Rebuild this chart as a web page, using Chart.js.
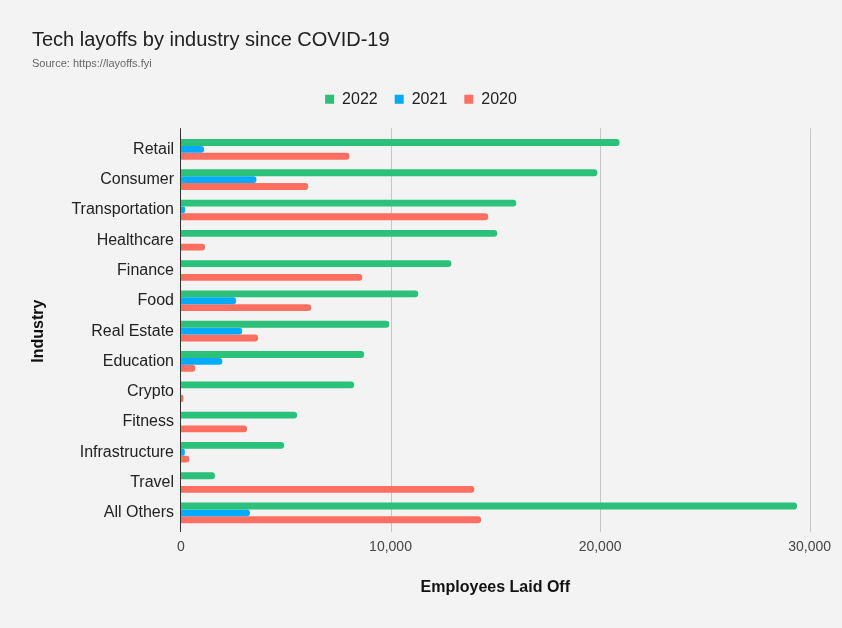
<!DOCTYPE html>
<html>
<head>
<meta charset="utf-8">
<script src="https://cdn.jsdelivr.net/npm/chart.js@4"></script>
<style>
  html, body { margin: 0; padding: 0; background: #f3f3f3; }
  #wrap { width: 842px; height: 628px; }
</style>
</head>
<body>
<div id="wrap"><canvas id="c" width="842" height="628"></canvas></div>
<script>
const categories = ['Retail', 'Consumer', 'Transportation', 'Healthcare', 'Finance', 'Food', 'Real Estate', 'Education', 'Crypto', 'Fitness', 'Infrastructure', 'Travel', 'All Others'];
const values2022 = [20930, 19870, 16000, 15090, 12900, 11320, 9940, 8740, 8260, 5540, 4920, 1620, 29400];
const values2021 = [1100, 3600, 200, 0, 0, 2630, 2920, 1970, 0, 0, 180, 0, 3290];
const values2020 = [8040, 6070, 14660, 1150, 8650, 6210, 3680, 680, 110, 3150, 400, 14000, 14320];
const xTicks = [0, 10000, 20000, 30000];

const FONT = "'Liberation Sans', Arial, sans-serif";

const gridPlugin = {
  id: 'extGrid',
  beforeDatasetsDraw(chart) {
    const { ctx, chartArea, scales: { x } } = chart;
    ctx.save();
    ctx.lineWidth = 1;
    x.ticks.forEach(t => {
      if (t.value === 0) return;
      const px = Math.round(x.getPixelForValue(t.value)) + 0.5;
      ctx.strokeStyle = '#c6c6c6';
      ctx.beginPath();
      ctx.moveTo(px, chartArea.top - 6);
      ctx.lineTo(px, chartArea.bottom + 4);
      ctx.stroke();
    });
    ctx.restore();
  },
  afterDatasetsDraw(chart) {
    const { ctx, chartArea, scales: { x } } = chart;
    const px = Math.round(x.getPixelForValue(0)) - 0.5;
    ctx.save();
    ctx.strokeStyle = '#333333';
    ctx.lineWidth = 1;
    ctx.beginPath();
    ctx.moveTo(px, chartArea.top - 6);
    ctx.lineTo(px, chartArea.bottom + 4);
    ctx.stroke();
    ctx.restore();
  }
};

const legendSpacer = {
  id: 'legendSpacer',
  beforeLayout(chart) {
    const lg = chart.legend;
    if (lg && !lg._spaced) {
      const f = lg.fit;
      lg.fit = function () { f.call(this); this.height += 17; };
      lg._spaced = true;
    }
  }
};

new Chart(document.getElementById('c'), {
  type: 'bar',
  data: {
    labels: categories,
    datasets: [
      { label: '2022', data: values2022, backgroundColor: '#2bc17a' },
      { label: '2021', data: values2021, backgroundColor: '#00aaff' },
      { label: '2020', data: values2020, backgroundColor: '#ff6f61' }
    ]
  },
  options: {
    indexAxis: 'y',
    responsive: false,
    animation: false,
    devicePixelRatio: 1,
    layout: { padding: { left: 32, right: 32, top: 20, bottom: 20 } },
    datasets: {
      bar: {
        categoryPercentage: 0.68,
        barPercentage: 1.0,
        borderRadius: 3,
        borderSkipped: 'start'
      }
    },
    plugins: {
      title: {
        display: true,
        text: 'Tech layoffs by industry since COVID-19',
        align: 'start',
        color: '#212121',
        font: { family: FONT, size: 20, weight: 'normal' },
        padding: { top: 8, bottom: 2 }
      },
      subtitle: {
        display: true,
        text: 'Source: https://layoffs.fyi',
        align: 'start',
        color: '#666666',
        font: { family: FONT, size: 11, weight: 'normal' },
        padding: { top: 3, bottom: 4 }
      },
      legend: {
        display: true,
        position: 'top',
        align: 'center',
        labels: {
          boxWidth: 9,
          boxHeight: 9,
          padding: 17,
          color: '#212121',
          font: { family: FONT, size: 16 }
        }
      },
      tooltip: { enabled: false }
    },
    scales: {
      x: {
        type: 'linear',
        min: 0,
        max: 30000,
        afterBuildTicks(scale) { scale.ticks = xTicks.map(v => ({ value: v })); },
        afterFit(scale) { scale.height = 80; },
        grid: { display: false, drawTicks: false },
        border: { display: false },
        ticks: {
          color: '#444444',
          padding: 11,
          font: { family: FONT, size: 14 },
          callback: v => v.toLocaleString('en-US')
        },
        title: {
          display: true,
          text: 'Employees Laid Off',
          color: '#111111',
          font: { family: FONT, size: 16, weight: 'bold' },
          padding: { top: 0, bottom: 11 }
        }
      },
      y: {
        afterFit(scale) { scale.width = 149; },
        grid: { display: false, drawTicks: false },
        border: { display: false },
        ticks: {
          color: '#222222',
          padding: 7,
          font: { family: FONT, size: 16 }
        },
        title: {
          display: true,
          text: 'Industry',
          color: '#111111',
          font: { family: FONT, size: 16, weight: 'bold', lineHeight: 0.85 },
          padding: { top: 0, bottom: 0 }
        }
      }
    }
  },
  plugins: [gridPlugin, legendSpacer]
});
</script>
</body>
</html>
